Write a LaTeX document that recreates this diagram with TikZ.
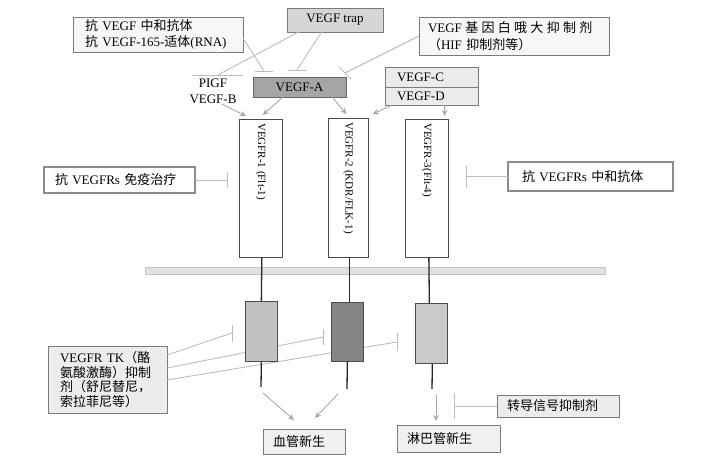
\documentclass[tikz,border=0pt]{standalone}
\usepackage{fontspec}
\setmainfont{Liberation Serif}
\newfontfamily\cjkf{Noto Sans CJK SC}
\usetikzlibrary{arrows.meta,calc}
\newcommand\zh[1]{{\cjkf #1}}
\newcommand\gp{\kern3.3pt}
\definecolor{bordc}{HTML}{7A7A7A}
\definecolor{conncol}{HTML}{BDBDBD}
\definecolor{arrcol}{HTML}{A8A8A8}
\definecolor{boxlight}{HTML}{F7F7F7}
\definecolor{trapfill}{HTML}{D6D6D6}
\definecolor{vegfafill}{HTML}{A5A5A5}
\definecolor{cdfill}{HTML}{EBEBEB}
\definecolor{fatcol}{HTML}{8C8C8C}
\definecolor{memfill}{HTML}{E2E2E2}
\definecolor{memdraw}{HTML}{C4C4C4}
\definecolor{kone}{HTML}{C2C2C2}
\definecolor{ktwo}{HTML}{858585}
\definecolor{kthree}{HTML}{CACACA}
\definecolor{tkfill}{HTML}{ECECEC}
\definecolor{outfill}{HTML}{F0F0F0}
\begin{document}
\begin{tikzpicture}[x=1pt,y=-1pt,
  box/.style={draw=bordc,line width=0.8pt,inner sep=0pt,outer sep=0pt,font=\fontsize{13}{15.5}\selectfont},
  lbox/.style={box,anchor=north west,align=left},
  conn/.style={draw=conncol,line width=0.9pt},
  inh/.style={conn,-{Bar[width=#1]}},
  arr/.style={draw=arrcol,line width=0.9pt,-{Stealth[length=6pt,width=5.5pt]}},
  stem/.style={draw=black!85,line width=1.3pt},
  rec/.style={draw=black!70,line width=0.7pt,fill=white,anchor=north west,inner sep=0pt},
  kin/.style={draw=black!70,line width=0.7pt,anchor=north west,minimum width=32pt,inner sep=0pt},
  rlab/.style={rotate=-90,anchor=west,inner sep=0pt,font=\fontsize{11}{13}\selectfont}
]
\fill[white] (0,0) rectangle (706,476);
\useasboundingbox (0,0) rectangle (706,476);

% top boxes
\node[lbox,fill=boxlight,text width=146pt,inner xsep=12pt,minimum height=35pt] (antivegf) at (73,17)
  {\zh{抗} VEGF \zh{中和抗体}\\\zh{抗} VEGF-165-\zh{适体}(RNA)};
\node[box,fill=trapfill,minimum width=96pt,minimum height=24pt] (trap) at (335,20) {VEGF trap};
\node[lbox,fill=boxlight,text width=172pt,inner xsep=9pt,minimum height=38pt,font=\fontsize{13}{17}\selectfont] (hif) at (419,17)
  {VEGF\gp\zh{基\gp 因\gp 白\gp 哦\gp 大\gp 抑\gp 制\gp 剂}\\\zh{（}HIF \zh{抑制剂等）}};

\node[align=center,inner sep=0pt,font=\fontsize{13}{16}\selectfont] (pigf) at (213,91.5) {PIGF\\VEGF-B};
\coordinate (pbl) at (192,75);
\coordinate (pbr) at (243,75);
\coordinate (pb) at (218,75);
\node[box,fill=vegfafill,draw=black!60,minimum width=93pt,minimum height=20pt] (vegfa) at (299.5,87) {VEGF-A};
\node[lbox,fill=cdfill,text width=69pt,inner xsep=12pt,minimum height=20pt] (vegfc) at (385,67) {VEGF-C};
\node[lbox,fill=cdfill,text width=69pt,inner xsep=12pt,minimum height=18pt] (vegfd) at (385,87) {VEGF-D};

% inhibition connectors at top
\coordinate (t1) at (264,71);
\coordinate (t2) at (297,70);
\coordinate (t3) at (345,73);
\draw[conn] ($(antivegf.north east)!0.6!(antivegf.south east)$) -- (t1);
\draw[conn] (255,71) -- (273,71);
\draw[conn] ($(trap.south west)!0.36!(trap.south east)$) -- (t2);
\draw[conn] (288,70) -- (307,70);
\draw[conn] ($(trap.south west)!0.12!(trap.south east)$) -- (pb);
\draw[conn] (pbl) -- (pbr);
\draw[conn] (hif.west) -- (t3);
\draw[conn] (339,67) -- (351,79);

% receptors
\node[rec,minimum width=43pt,minimum height=138pt] (r1) at (239,119) {};
\node[rec,minimum width=40pt,minimum height=139pt] (r2) at (328,118) {};
\node[rec,minimum width=43pt,minimum height=138pt] (r3) at (405,119) {};
\node[rlab] (l1) at ($(r1.north)+(0,4)$) {VEGFR-1 (Flt-1)};
\node[rlab] (l2) at ($(r2.north)+(0,4)$) {VEGFR-2 (KDR/FLK-1)};
\node[rlab] (l3) at ($(r3.north)+(0,4)$) {VEGFR-3(Flt-4)};

% ligand arrows
\draw[arr] ($(pigf.south)+(9,0)$) -- ($(r1.north west)+(7,-3)$);
\draw[arr] ($(vegfa.south west)!0.32!(vegfa.south east)$) -- ($(r1.north)+(2,-4)$);
\draw[arr] ($(vegfa.south west)!0.85!(vegfa.south east)$) -- ($(r2.north)+(-2,-4)$);
\draw[arr] ($(vegfd.south west)!0.08!(vegfd.south east)$) -- ($(r2.north east)+(4,-4)$);
\draw[arr] ($(vegfd.south west)!0.64!(vegfd.south east)$) -- ($(r3.north)+(18,-3)$);

% side antibody boxes
\node[lbox,draw=fatcol,line width=2.5pt,fill=white,text width=129pt,inner xsep=11pt,minimum height=26pt] (imm) at (44,167)
  {\zh{抗} VEGFRs \zh{免疫治疗}};
\node[lbox,draw=fatcol,line width=2.5pt,fill=white,text width=137pt,inner xsep=14pt,minimum height=29pt] (neut) at (508,162)
  {\zh{抗} VEGFRs \zh{中和抗体}};
\coordinate (ti) at (228,180);
\coordinate (tn) at (466,176.5);
\draw[inh=16pt] (imm.east) -- (ti);
\draw[inh=22pt] (neut.west) -- (tn);

% membrane
\node[draw=memdraw,fill=memfill,line width=0.6pt,anchor=north west,minimum width=460pt,minimum height=7pt,inner sep=0pt] (mem) at (145,267) {};

% TK inhibitor box and its connectors
\node[lbox,fill=tkfill,text width=95pt,inner xsep=12pt,minimum height=67pt,font=\fontsize{13}{14.5}\selectfont] (tk) at (48,346)
  {VEGFR TK\zh{（酪}\\\zh{氨酸激酶）抑制}\\\zh{剂（舒尼替尼，}\\\zh{索拉菲尼等）}};
\coordinate (b1) at (232,333);
\coordinate (b2) at (323,337);
\coordinate (b3) at (397,342);
\draw[conn] ($(tk.north east)+(0,9)$) -- (b1);
\draw[conn] (232,325) -- (232,342);
\draw[conn] ($(tk.north east)+(0,22)$) -- (b2);
\draw[conn] (323,329) -- (323,345);
\draw[conn] ($(tk.north east)+(0,34)$) -- (b3);
\draw[conn] (397,333) -- (397,351);

% kinase domains
\node[kin,fill=kone,minimum height=60pt] (k1) at (245,301) {};
\node[kin,fill=ktwo,minimum height=59pt] (k2) at (331,302) {};
\node[kin,fill=kthree,minimum height=60pt] (k3) at (415,303) {};

% stems
\coordinate (s1) at (261,387);
\coordinate (s2) at (347,389);
\coordinate (s3) at (432,389);
\draw[stem] ($(r1.south)+(1,0)$) -- ($(k1.north)+(0,0)$);
\draw[stem] ($(r2.south)+(1,0)$) -- ($(k2.north)+(2,0)$);
\draw[stem] ($(r3.south)+(2,0)$) -- ($(k3.north)+(-2,0)$);
\draw[stem] (k1.south) -- (s1);
\draw[stem] (k2.south) -- (s2);
\draw[stem] ($(k3.south)+(1,0)$) -- (s3);

% outputs
\node[lbox,fill=outfill,text width=62pt,inner xsep=10pt,minimum height=25pt] (ves) at (263,429) {\zh{血管新生}};
\node[lbox,fill=outfill,text width=83pt,inner xsep=10pt,minimum height=27pt] (lym) at (397,425) {\zh{淋巴管新生}};
\node[lbox,fill=tkfill,text width=102pt,inner xsep=10pt,minimum height=22pt] (sig) at (497,395) {\zh{转导信号抑制剂}};
\draw[arr] ($(s1)+(2,6)$) -- ($(ves.north)+(-10,-9)$);
\draw[arr] ($(s2)+(-9,5)$) -- ($(ves.north)+(11,-11)$);
\draw[arr] ($(s3)+(4,6)$) -- ($(lym.north west)+(39,-4)$);
\coordinate (ts) at (454,406);
\draw[inh=26pt] (sig.west) -- (ts);
\end{tikzpicture}
\end{document}
